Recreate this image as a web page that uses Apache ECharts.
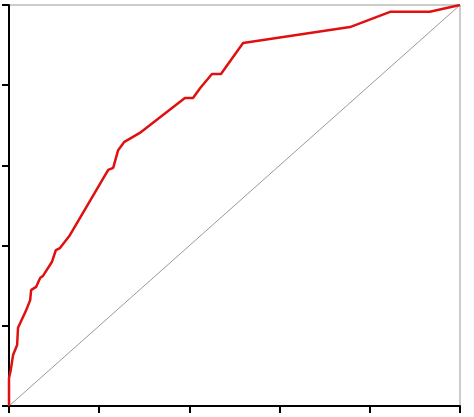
<!DOCTYPE html>
<html><head><meta charset="utf-8">
<script src="https://cdn.jsdelivr.net/npm/echarts@6/dist/echarts.min.js"></script>
<style>html,body{margin:0;background:#fff}#c{width:474px;height:417px}</style>
</head><body><div id="c"></div>
<script>
// ROC curve points (false positive rate, true positive rate)
var rocX = [0, 0, 0.004, 0.009, 0.018, 0.02, 0.038, 0.047, 0.049, 0.06, 0.069, 0.075, 0.095, 0.104, 0.113, 0.135, 0.22, 0.231, 0.242, 0.255, 0.29, 0.39, 0.408, 0.424, 0.45, 0.47, 0.519, 0.756, 0.845, 0.933, 1];
var rocY = [0, 0.07, 0.09, 0.127, 0.152, 0.195, 0.239, 0.264, 0.289, 0.297, 0.319, 0.324, 0.359, 0.389, 0.394, 0.426, 0.589, 0.594, 0.638, 0.658, 0.681, 0.768, 0.768, 0.793, 0.828, 0.828, 0.905, 0.945, 0.983, 0.983, 1];
var diag = [[0, 0], [1, 1]];

var chart = echarts.init(document.getElementById('c'));
var axisCommon = {
    type: 'value', min: 0, max: 1, interval: 0.2,
    axisLine: { show: true, lineStyle: { color: '#000', width: 2 } },
    axisTick: { show: true, inside: false, length: 7, lineStyle: { color: '#000', width: 2 } },
    axisLabel: { show: false },
    splitLine: { show: false }
};
chart.setOption({
    animation: false,
    grid: { left: 9, right: 14, top: 5, bottom: 11, show: true, borderColor: '#999', borderWidth: 1 },
    xAxis: axisCommon,
    yAxis: axisCommon,
    series: [
        { type: 'line', data: diag, symbol: 'none', lineStyle: { color: '#999', width: 1 } },
        {
            type: 'line', symbol: 'none',
            data: rocX.map(function (x, i) { return [x, rocY[i]]; }),
            lineStyle: { color: '#e01010', width: 2.5 }
        }
    ]
});
</script></body></html>
